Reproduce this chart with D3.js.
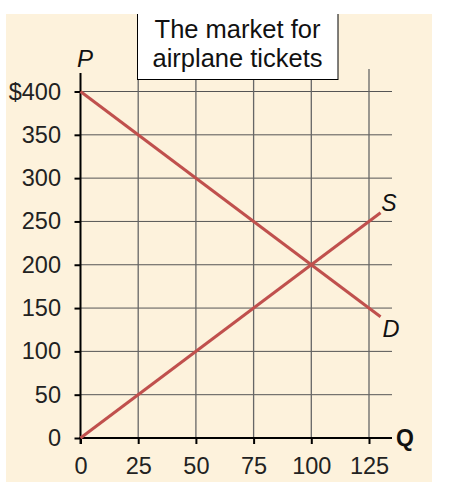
<!DOCTYPE html>
<html><head><meta charset="utf-8">
<script src="https://cdn.jsdelivr.net/npm/d3@7"></script>
<style>body{margin:0;background:#fff}svg{display:block}text{font-family:"Liberation Sans",Arial,sans-serif}</style>
</head><body>
<svg id="c" width="476" height="499"></svg>
<script>
const xTicks = [0, 25, 50, 75, 100, 125];
const yTicks = [0, 50, 100, 150, 200, 250, 300, 350, 400];
const yTickLabels = ["0", "50", "100", "150", "200", "250", "300", "350", "$400"];
const supplyQ = [0, 130];
const supplyP = [0, 260];
const demandQ = [0, 130];
const demandP = [400, 140];
const titleLines = ["The market for", "airplane tickets"];

const svg = d3.select("#c");
svg.append("rect").attr("x", 6).attr("y", 14).attr("width", 426).attr("height", 468).attr("fill", "#fdf2dc");

const x = d3.scaleLinear().domain([0, 125]).range([80.5, 369]);
const y = d3.scaleLinear().domain([0, 400]).range([438, 91.5]);
const xEnd = 392, yTop = 69;
const FF = "Liberation Sans, Arial, sans-serif";

// grid
const g = svg.append("g");
g.selectAll(".hg").data(yTicks.filter(d => d > 0)).join("line")
  .attr("x1", x(0)).attr("x2", xEnd).attr("y1", d => y(d)).attr("y2", d => y(d))
  .attr("stroke", "#555").attr("stroke-width", 1);
g.selectAll(".vg").data(xTicks.filter(d => d > 0)).join("line")
  .attr("x1", d => x(d)).attr("x2", d => x(d)).attr("y1", yTop).attr("y2", y(0))
  .attr("stroke", "#666").attr("stroke-width", 1.3);

// axes
const yAxis = d3.axisLeft(y).tickValues(yTicks).tickFormat((d, i) => yTickLabels[i]).tickSize(6).tickPadding(13.5);
const ya = svg.append("g").attr("transform", `translate(${x(0)},0)`).call(yAxis);
ya.attr("font-size", 23.5).attr("font-family", FF);
ya.select(".domain").remove();
ya.selectAll(".tick line").attr("stroke", "#000").attr("stroke-width", 2);
ya.selectAll("text").attr("fill", "#222");

const xAxis = d3.axisBottom(x).tickValues(xTicks).tickSize(6).tickPadding(13);
const xa = svg.append("g").attr("transform", `translate(0,${y(0)})`).call(xAxis);
xa.attr("font-size", 23.5).attr("font-family", FF);
xa.select(".domain").remove();
xa.selectAll(".tick line").attr("stroke", "#000").attr("stroke-width", 2);
xa.selectAll("text").attr("fill", "#222");

svg.append("line").attr("x1", x(0)).attr("x2", x(0)).attr("y1", 73).attr("y2", y(0) + 6).attr("stroke", "#000").attr("stroke-width", 2);
svg.append("line").attr("x1", x(0) - 1).attr("x2", xEnd).attr("y1", y(0)).attr("y2", y(0)).attr("stroke", "#000").attr("stroke-width", 2);

// curves
const line = d3.line().x(d => x(d[0])).y(d => y(d[1]));
svg.append("path").attr("d", line(supplyQ.map((q, i) => [q, supplyP[i]])))
  .attr("stroke", "#c0504d").attr("stroke-width", 3).attr("fill", "none");
svg.append("path").attr("d", line(demandQ.map((q, i) => [q, demandP[i]])))
  .attr("stroke", "#c0504d").attr("stroke-width", 3).attr("fill", "none");

// labels
svg.append("text").attr("x", 389).attr("y", 211).attr("font-size", 23).attr("font-style", "italic").attr("text-anchor", "middle").attr("fill", "#111").text("S");
svg.append("text").attr("x", 391).attr("y", 337).attr("font-size", 23.5).attr("font-style", "italic").attr("text-anchor", "middle").attr("fill", "#111").text("D");
svg.append("text").attr("x", 85).attr("y", 67).attr("font-size", 24).attr("font-style", "italic").attr("text-anchor", "middle").attr("fill", "#111").text("P");
svg.append("text").attr("x", 405).attr("y", 446).attr("font-size", 23).attr("font-weight", "bold").attr("text-anchor", "middle").attr("fill", "#111").text("Q");

// title
svg.append("rect").attr("x", 137.5).attr("y", 10).attr("width", 200.5).attr("height", 69.5)
  .attr("fill", "#fff").attr("stroke", "#000").attr("stroke-width", 1);
svg.append("rect").attr("x", 130).attr("y", 0).attr("width", 215).attr("height", 14).attr("fill", "#fff");
svg.selectAll(".tl").data(titleLines).join("text")
  .attr("x", 237.5).attr("y", (d, i) => 37.5 + i * 29.2).attr("font-size", 25.5).attr("text-anchor", "middle").attr("fill", "#111").text(d => d);
</script>
</body></html>
